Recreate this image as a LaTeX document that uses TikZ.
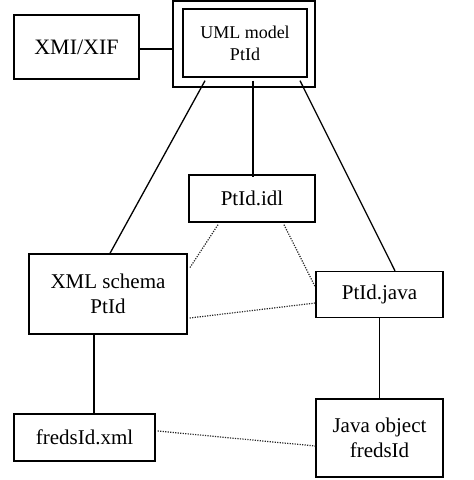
\documentclass[tikz,border=0pt]{standalone}
\usepackage{fontspec}
\setmainfont{Liberation Serif}
\begin{document}
\begin{tikzpicture}[x=1pt,y=-1pt,
  box/.style={draw,line width=1.4pt,inner sep=0pt,align=center,font=\fontsize{21}{25}\selectfont},
  link/.style={line width=1.3pt},
  weak/.style={line width=1.2pt,dash pattern=on 1.2pt off 1.3pt,black!85}]
\useasboundingbox (0,0) rectangle (474,480);
\node[box,minimum width=125pt,minimum height=64pt,font=\fontsize{22}{26}\selectfont] (xmi) at (76.5,47) {XMI/XIF};
\node[box,minimum width=142pt,minimum height=86pt] (umlout) at (244,44) {};
\node[box,minimum width=124pt,minimum height=68pt,font=\fontsize{18}{22}\selectfont] (umlin) at (245,43) {UML model\\PtId};
\node[box,minimum width=126pt,minimum height=47pt] (idl) at (252,198.5) {PtId.idl};
\node[box,minimum width=158pt,minimum height=80pt] (schema) at (108,294) {XML schema\\PtId};
\node[box,minimum width=127pt,minimum height=46pt] (java) at (379.5,294.5) {PtId.java};
\node[box,minimum width=141pt,minimum height=47pt] (freds) at (84.5,437.5) {fredsId.xml};
\node[box,minimum width=127pt,minimum height=78pt] (jobj) at (379.5,438) {Java object\\fredsId};
% solid connectors
\draw[link] ([yshift=-2pt]xmi.east) -- ([yshift=-2pt]xmi.east -| umlout.west);
\draw[link] ([xshift=-40pt,yshift=-3pt]umlin.south) -- ([xshift=2pt]schema.north);
\draw[link] ([xshift=8pt,yshift=-3pt]umlin.south) -- ([xshift=8pt,yshift=-3pt]umlin.south |- idl.north);
\draw[link] ([xshift=55pt,yshift=-3pt]umlin.south) -- ([xshift=15.5pt]java.north);
\draw[link] ([xshift=-14pt]schema.south) -- ([xshift=-14pt]schema.south |- freds.north);
\draw[link] (java.south) -- (jobj.north);
% dotted connectors
\draw[weak] ([xshift=-34pt,yshift=-2pt]idl.south) -- ([xshift=2pt,yshift=26pt]schema.east);
\draw[weak] ([xshift=32pt,yshift=-2pt]idl.south) -- ([yshift=7.5pt]java.west);
\draw[weak] ([xshift=2pt,yshift=-24pt]schema.east) -- ([yshift=-8.5pt]java.west);
\draw[weak] ([xshift=2pt,yshift=6.5pt]freds.east) -- ([yshift=-8pt]jobj.west);
\end{tikzpicture}
\end{document}
